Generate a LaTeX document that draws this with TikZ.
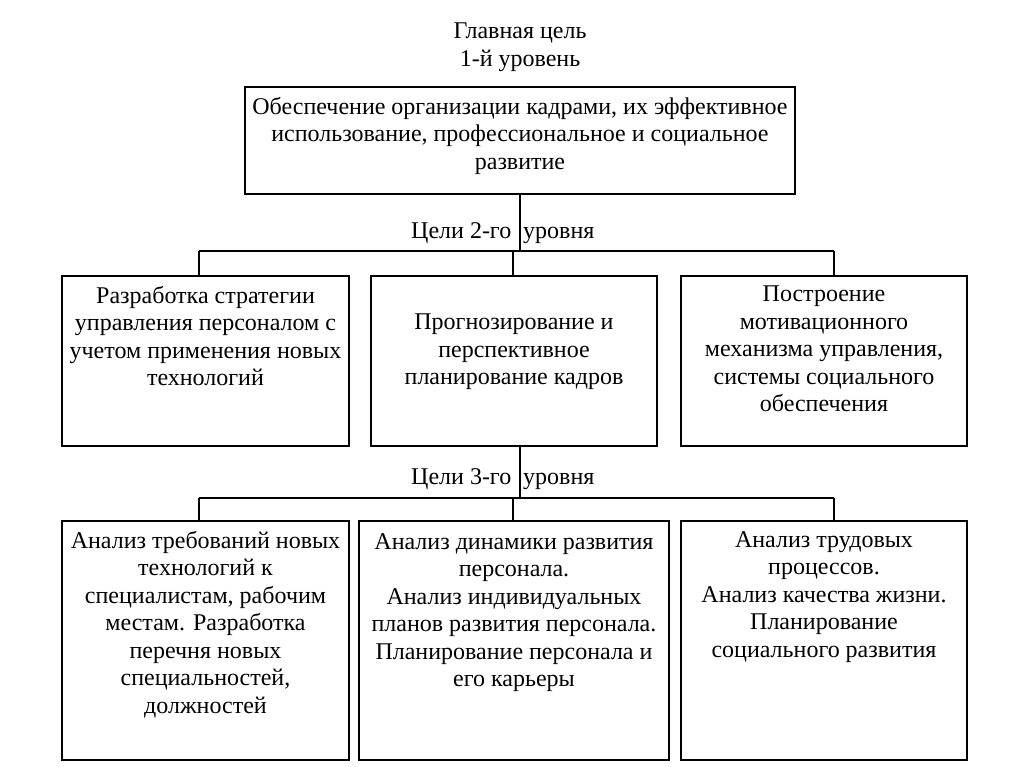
\documentclass[tikz,border=0pt]{standalone}
\usepackage{fontspec}
\setmainfont{Liberation Serif}
\begin{document}
\begin{tikzpicture}[x=1pt,y=-1pt,
  box/.style={draw=black, line width=1.6pt, rectangle, inner sep=0pt},
  txt/.style={align=center, inner sep=0pt, anchor=north, font=\fontsize{24}{27.5}\selectfont},
  lbl/.style={inner sep=0pt, anchor=base west, font=\fontsize{24}{27.5}\selectfont},
  conn/.style={draw=black, line width=1.6pt}]
\useasboundingbox (0,0) rectangle (1024,767);
\fill[white] (0,0) rectangle (1024,767);
% title
\node[txt] (title) at (520,23) {Главная цель\\1-й уровень};
% level 1
\node[box, minimum width=550pt, minimum height=107pt] (b1) at (520,140.5) {};
\node[txt] (t1) at (520,97) {Обеспечение организации кадрами, их эффективное\\использование, профессиональное и социальное\\развитие};
% level 2 label
\node[lbl] (l2) at (411,238) {Цели 2-го\hspace{12pt}уровня};
% level 2 boxes
\node[box, minimum width=287pt, minimum height=170pt] (b2a) at (205.5,361) {};
\node[box, minimum width=286pt, minimum height=170pt] (b2b) at (514,361) {};
\node[box, minimum width=286pt, minimum height=170pt] (b2c) at (824,361) {};
\node[txt] (t2a) at (205.5,286) {Разработка стратегии\\управления персоналом с\\учетом применения новых\\технологий};
\node[txt] (t2b) at (514,314) {Прогнозирование и\\перспективное\\планирование кадров};
\node[txt] (t2c) at (824,286) {Построение\\мотивационного\\механизма управления,\\системы социального\\обеспечения};
% level 3 label
\node[lbl] (l3) at (411,484) {Цели 3-го\hspace{12pt}уровня};
% level 3 boxes
\node[box, minimum width=287pt, minimum height=239pt] (b3a) at (205.5,640.5) {};
\node[box, minimum width=310pt, minimum height=239pt] (b3b) at (514,640.5) {};
\node[box, minimum width=286pt, minimum height=239pt] (b3c) at (824,640.5) {};
\node[txt] (t3a) at (205.5,531) {Анализ требований новых\\технологий к\\специалистам, рабочим\\местам. Разработка\\перечня новых\\специальностей,\\должностей};
\node[txt] (t3b) at (514,533) {Анализ динамики развития\\персонала.\\Анализ индивидуальных\\планов развития персонала.\\Планирование персонала и\\его карьеры};
\node[txt] (t3c) at (824,531) {Анализ трудовых\\процессов.\\Анализ качества жизни.\\Планирование\\социального развития};
% connectors level 1 -> 2
\coordinate (h2L) at (199,251);
\coordinate (h2M) at (513,251);
\coordinate (h2R) at (834,251);
\draw[conn] (b1.south) -- (b1.south |- h2L);
\draw[conn] (h2L) -- (h2R);
\draw[conn] (h2L) -- (h2L |- b2a.north);
\draw[conn] (h2M) -- (h2M |- b2b.north);
\draw[conn] (h2R) -- (h2R |- b2c.north);
% connectors level 2 -> 3
\coordinate (h3L) at (199,498);
\coordinate (h3M) at (513,498);
\coordinate (h3R) at (834,498);
\coordinate (v3) at (520,498);
\draw[conn] (b2b.south -| v3) -- (v3);
\draw[conn] (h3L) -- (h3R);
\draw[conn] (h3L) -- (h3L |- b3a.north);
\draw[conn] (h3M) -- (h3M |- b3b.north);
\draw[conn] (h3R) -- (h3R |- b3c.north);
\end{tikzpicture}
\end{document}
